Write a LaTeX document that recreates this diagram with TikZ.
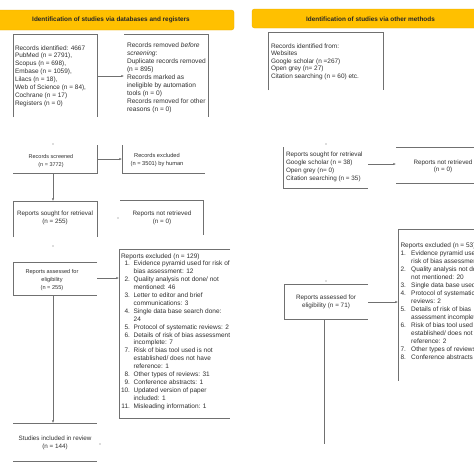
\documentclass[tikz,border=0pt]{standalone}
\usepackage{fontspec}
\setmainfont{Liberation Sans}
\usetikzlibrary{arrows.meta}
\definecolor{hdrfill}{HTML}{FFC000}
\definecolor{hdrdraw}{HTML}{EBAF00}
\definecolor{linec}{HTML}{707070}
\definecolor{txtc}{HTML}{303030}
\newcommand\fsz[2]{\fontsize{#1}{#2}\selectfont}
\begin{document}
\begin{tikzpicture}[x=1pt,y=-1pt,
  bx/.style={rectangle,inner sep=0pt,outer sep=0pt,draw=none,anchor=north west},
  border/.style={draw=linec,line width=0.6pt},
  arr/.style={draw=linec,line width=0.6pt,-{Latex[length=2.6pt,width=2.2pt]}},
  txt/.style={inner sep=0pt,outer sep=0pt,text=txtc},
  hdr/.style={fill=hdrfill,draw=hdrdraw,line width=0.4pt,rounded corners=2.5pt},
  hdrtxt/.style={txt,text=black!85,font=\fontsize{6.4}{7}\selectfont\bfseries},
  dotc/.style={fill=linec}]
\useasboundingbox (0,0) rectangle (474,474);
\clip (0,0) rectangle (474,474);
\fill[white] (0,0) rectangle (474,474);

% headers
\path[hdr] (-5,10) rectangle (234,30);
\node[hdrtxt] (h1) at (111,20) {Identification of studies via databases and registers};
\path[hdr] (252,9) rectangle (480,28);
\node[hdrtxt] (h2) at (370.5,19) {Identification of studies via other methods};

% box frames
\node[bx,minimum width=84pt,minimum height=83pt] (b1) at (13,34) {};
\node[bx,minimum width=84pt,minimum height=83pt] (b2) at (124,34) {};
\node[bx,minimum width=115pt,minimum height=58pt] (b3) at (268,32) {};
\node[bx,minimum width=84pt,minimum height=28pt] (b4) at (13,145) {};
\node[bx,minimum width=83pt,minimum height=28pt] (b5) at (122,145) {};
\node[bx,minimum width=84pt,minimum height=36pt] (b6) at (13,201) {};
\node[bx,minimum width=83pt,minimum height=35pt] (b7) at (120,200) {};
\node[bx,minimum width=111pt,minimum height=169pt] (b8) at (119,249) {};
\node[bx,minimum width=84pt,minimum height=33pt] (b9) at (13,262) {};
\node[bx,minimum width=84pt,minimum height=38pt] (b10) at (13,423) {};
\node[bx,minimum width=85pt,minimum height=41pt] (b11) at (283,147) {};
\node[bx,minimum width=90pt,minimum height=36pt] (b12) at (396,147) {};
\node[bx,minimum width=90pt,minimum height=152pt] (b13) at (398,229) {};
\node[bx,minimum width=84pt,minimum height=35pt] (b14) at (284,284) {};

% partial borders
\draw[border] (b1.south west) -- (b1.north west) -- (b1.north east) -- (b1.south east);
\draw[border] (b2.north west) -- (b2.north east) -- (b2.south east);
\draw[border] (b3.south west) -- (b3.north west) -- (b3.north east) -- (b3.south east);
\draw[border] (b4.north east) -- (b4.south east) -- (b4.south west);
\draw[border] (b5.north west) -- (b5.south west) -- (b5.south east);
\draw[border] (b6.south west) -- (b6.north west) -- (b6.north east) -- (b6.south east);
\draw[border] (b7.north west) -- (b7.north east) -- (b7.south east);
\draw[border] (b8.north east) -- (b8.north west) -- (b8.south west) -- (b8.south east);
\draw[border] (b9.north east) -- (b9.north west) -- (b9.south west) -- (b9.south east);
\draw[border] (b10.north west) -- (b10.north east);
\draw[border] (b10.south west) -- (b10.south east);
\draw[border] (b11.north west) -- (b11.south west) -- (b11.south east);
\draw[border] (b12.north west) -- (b12.north east);
\draw[border] (b12.south west) -- (b12.south east);
\draw[border] (b13.north east) -- (b13.north west) -- (b13.south west);
\draw[border] (b14.north east) -- (b14.north west) -- (b14.south west) -- (b14.south east);

% connectors
\draw[arr] (b1.east |- 0,76) -- (b2.west |- 0,76);
\draw[arr] (b4.east |- 0,159) -- (b5.west |- 0,159);
\draw[arr] (b4.south -| 53,0) -- (b6.north -| 53,0);
\draw[arr] (b9.east |- 0,278) -- (b8.west |- 0,278);
\draw[arr] (b9.south -| 53,0) -- (b10.north -| 53,0);
\draw[arr] (b11.east |- 0,164) -- (b12.west |- 0,164);
\draw[arr] (b14.east |- 0,302) -- (b13.west |- 0,302);
\coordinate (e8) at (324,444);
\draw[border] (b14.south -| e8) -- (e8);

% stray marks
\fill[dotc] (53,144) circle (0.6);
\fill[dotc] (118,218) circle (0.6);
\fill[dotc] (53,246) circle (0.6);
\fill[dotc] (100,444) circle (0.6);
\fill[dotc] (326,144) circle (0.6);
\fill[dotc] (326,281) circle (0.6);

% texts
\node[txt,anchor=north west] (t1) at (15,44.5) {\fsz{6.45}{7.9}\begin{tabular}{@{}l@{}}
Records identified: 4667\\
PubMed (n = 2791),\\
Scopus (n = 698),\\
Embase (n = 1059),\\
Lilacs (n = 18),\\
Web of Science (n = 84),\\
Cochrane (n = 17)\\
Registers (n = 0)\end{tabular}};

\node[txt,anchor=north west] (t2) at (127,41.4) {\fsz{6.6}{8}\begin{tabular}{@{}l@{}}
Records removed \emph{before}\\
\emph{screening}:\\
Duplicate records removed\\
(n = 895)\\
Records marked as\\
ineligible by automation\\
tools (n = 0)\\
Records removed for other\\
reasons (n = 0)\end{tabular}};

\node[txt,anchor=north west] (t3) at (271,42.75) {\fsz{6.45}{7.5}\begin{tabular}{@{}l@{}}
Records identified from:\\
Websites\\
Google scholar (n =267)\\
Open grey (n= 27)\\
Citation searching (n = 60) etc.\end{tabular}};

\node[txt,anchor=north] (t4) at (51,152.4) {\fsz{5.5}{8}\begin{tabular}{@{}c@{}}
Records screened\\ (n = 3772)\end{tabular}};

\node[txt,anchor=north] (t5) at (157,151.4) {\fsz{5.7}{8}\begin{tabular}{@{}c@{}}
Records excluded\\ (n = 3501) by human\end{tabular}};

\node[txt,anchor=north] (t6) at (55,209.4) {\fsz{6.3}{8}\begin{tabular}{@{}c@{}}
Reports sought for retrieval\\ (n = 255)\end{tabular}};

\node[txt,anchor=north] (t7) at (162,209.4) {\fsz{6.3}{8}\begin{tabular}{@{}c@{}}
Reports not retrieved\\ (n = 0)\end{tabular}};

\node[txt,anchor=north west] (t8) at (121,252.5) {\fsz{6.5}{7.9}\begin{tabular}{@{}r@{\hspace{3.6pt}}l@{}}
\multicolumn{2}{@{}l@{}}{Reports excluded (n = 129)}\\
1. & Evidence pyramid used for risk of\\
 & bias assessment: 12\\
2. & Quality analysis not done/ not\\
 & mentioned: 46\\
3. & Letter to editor and brief\\
 & communications: 3\\
4. & Single data base search done:\\
 & 24\\
5. & Protocol of systematic reviews: 2\\
6. & Details of risk of bias assessment\\
 & incomplete: 7\\
7. & Risk of bias tool used is not\\
 & established/ does not have\\
 & reference: 1\\
8. & Other types of reviews: 31\\
9. & Conference abstracts: 1\\
10. & Updated version of paper\\
 & included: 1\\
11. & Misleading information: 1\end{tabular}};

\node[txt,anchor=north] (t9) at (52,267.4) {\fsz{5.6}{8}\begin{tabular}{@{}c@{}}
Reports assessed for\\ eligibility\\ (n = 255)\end{tabular}};

\node[txt,anchor=north] (t10) at (55,434.4) {\fsz{6.3}{8}\begin{tabular}{@{}c@{}}
Studies included in review\\ (n = 144)\end{tabular}};

\node[txt,anchor=north west] (t11) at (286,151.6) {\fsz{6.35}{7.7}\begin{tabular}{@{}l@{}}
Reports sought for retrieval\\
Google scholar (n = 38)\\
Open grey (n= 0)\\
Citation searching (n = 35)\end{tabular}};

\node[txt,anchor=north] (t12) at (443,159.1) {\fsz{6.3}{7}\begin{tabular}{@{}c@{}}
Reports not retrieved\\ (n = 0)\end{tabular}};

\node[txt,anchor=north west] (t13) at (400.5,241.4) {\fsz{6.5}{8}\begin{tabular}{@{}l@{\hspace{5.3pt}}l@{}}
\multicolumn{2}{@{}l@{}}{Reports excluded (n = 53)}\\
1. & Evidence pyramid used for\\
 & risk of bias assessment\\
2. & Quality analysis not done/\\
 & not mentioned: 20\\
3. & Single data base used\\
4. & Protocol of systematic\\
 & reviews: 2\\
5. & Details of risk of bias\\
 & assessment incomplete\\
6. & Risk of bias tool used is\\
 & established/ does not have\\
 & reference: 2\\
7. & Other types of reviews\\
8. & Conference abstracts\end{tabular}};

\node[txt,anchor=north] (t14) at (326,293.4) {\fsz{6.35}{8}\begin{tabular}{@{}c@{}}
Reports assessed for\\ eligibility (n = 71)\end{tabular}};
\end{tikzpicture}
\end{document}
